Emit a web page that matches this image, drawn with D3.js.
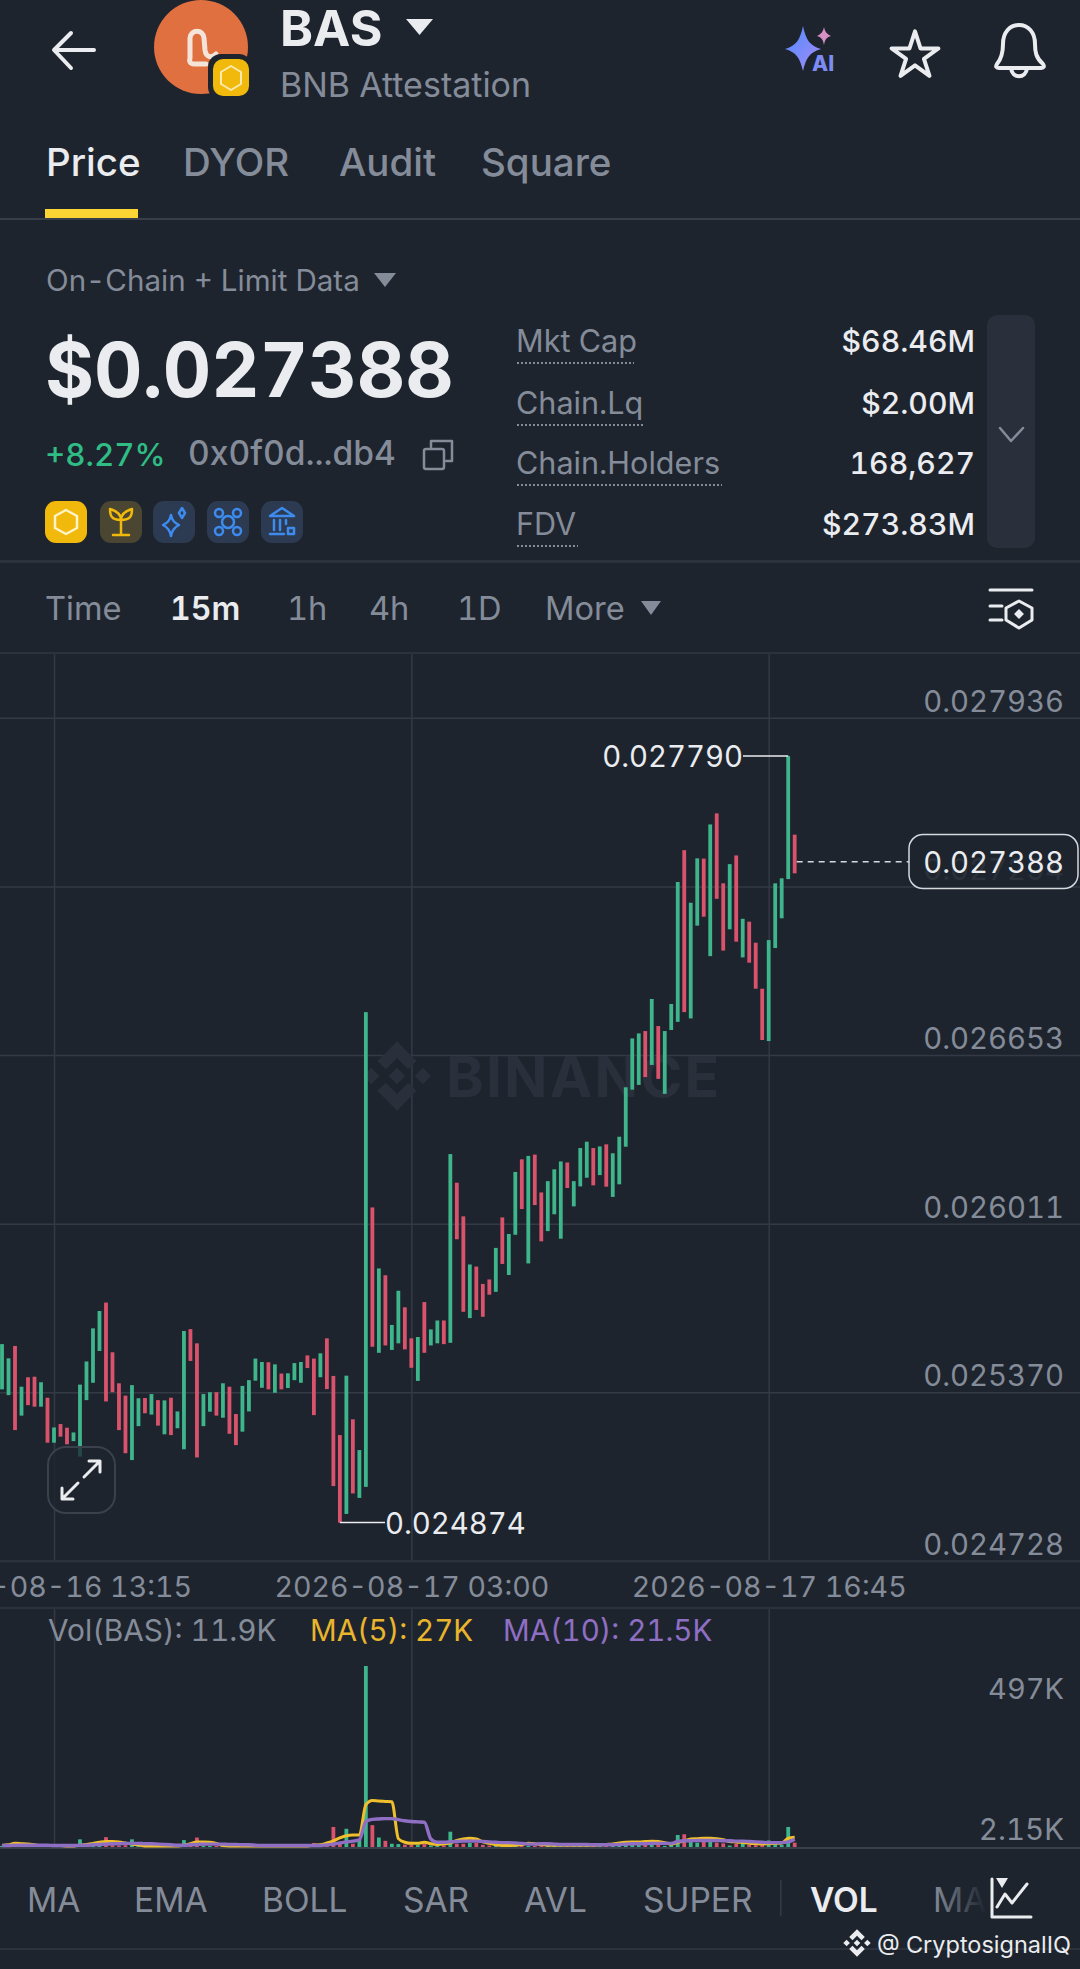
<!DOCTYPE html>
<html>
<head>
<meta charset="utf-8">
<script src="https://cdn.jsdelivr.net/npm/d3@7"></script>
<style>
  html, body { margin: 0; padding: 0; background: #1e242e; }
  svg { display: block; }
  text { font-family: Inter, "Noto Sans", sans-serif; font-variant-numeric: tabular-nums; }
  .domain { display: none; }
</style>
</head>
<body>
<div id="chart"></div>
<script>
// Candles, left to right, 15 minutes apart.
var candleHigh = [0.025553,0.025499,0.025546,0.025391,0.025427,0.025429,0.025408,0.025349,0.025236,0.025249,
  0.025235,0.025217,0.025399,0.025487,0.025613,0.025679,0.025711,0.025522,0.025404,0.025357,
  0.025397,0.025347,0.025348,0.025363,0.025340,0.025339,0.025349,0.025297,0.025603,0.025610,
  0.025556,0.025363,0.025370,0.025370,0.025404,0.025391,0.025287,0.025394,0.025416,0.025498,
  0.025485,0.025484,0.025476,0.025441,0.025442,0.025481,0.025485,0.025510,0.025498,0.025518,
  0.025575,0.025432,0.025207,0.025433,0.025267,0.025150,0.026816,0.026073,0.025841,0.025815,
  0.025626,0.025756,0.025693,0.025575,0.025580,0.025713,0.025609,0.025643,0.025643,0.026276,
  0.026167,0.026039,0.025856,0.025848,0.025782,0.025799,0.025919,0.026035,0.025972,0.026208,
  0.026256,0.026269,0.026274,0.026130,0.026173,0.026218,0.026248,0.026244,0.026173,0.026299,
  0.026323,0.026299,0.026305,0.026313,0.026279,0.026342,0.026530,0.026716,0.026735,0.026744,
  0.026866,0.026763,0.026744,0.026847,0.027311,0.027432,0.027232,0.027401,0.027400,0.027530,
  0.027572,0.027306,0.027379,0.027412,0.027171,0.027160,0.027080,0.026905,0.027090,0.027306,
  0.027325,0.027790,0.027491];
var candleLow = [0.025381,0.025359,0.025226,0.025281,0.025321,0.025315,0.025315,0.025178,0.025178,0.025201,
  0.025172,0.025184,0.025125,0.025340,0.025406,0.025527,0.025335,0.025370,0.025226,0.025138,
  0.025112,0.025241,0.025290,0.025285,0.025243,0.025210,0.025207,0.025233,0.025153,0.025489,
  0.025122,0.025241,0.025296,0.025281,0.025273,0.025212,0.025169,0.025220,0.025297,0.025414,
  0.025387,0.025381,0.025368,0.025381,0.025386,0.025416,0.025406,0.025462,0.025283,0.025427,
  0.025382,0.025013,0.024874,0.024907,0.024985,0.024968,0.025010,0.025543,0.025520,0.025548,
  0.025531,0.025556,0.025533,0.025463,0.025413,0.025520,0.025548,0.025556,0.025553,0.025558,
  0.025952,0.025676,0.025652,0.025683,0.025657,0.025741,0.025752,0.025858,0.025816,0.025969,
  0.026067,0.025860,0.026082,0.025944,0.025983,0.026047,0.025954,0.026147,0.026077,0.026153,
  0.026186,0.026157,0.026196,0.026152,0.026113,0.026161,0.026304,0.026521,0.026539,0.026569,
  0.026615,0.026562,0.026505,0.026748,0.026779,0.026816,0.026792,0.027145,0.027179,0.027029,
  0.027247,0.027050,0.027131,0.027084,0.027024,0.027004,0.026905,0.026710,0.026706,0.027060,
  0.027173,0.027322,0.027344];
var candleUp = [1,1,0,1,0,0,1,0,1,0, 0,1,1,1,1,1,0,0,0,0, 1,1,0,1,0,1,0,1,1,0,
  0,1,1,0,1,0,0,1,1,1, 1,0,1,0,1,1,1,0,0,1, 0,0,0,1,0,1,1,0,1,0,
  1,1,0,0,1,0,1,1,0,1, 0,0,1,0,0,0,1,0,1,1, 0,1,0,0,1,1,1,0,1,1,
  1,0,1,0,1,1,1,1,1,0, 1,0,1,1,1,0,1,1,0,1, 0,0,1,0,1,0,0,0,1,1,
  1,1,0];

// Volume panel, in thousands.
var volume = [3,3,5,3,3,2.5,2.5,3,2.5,2.5, 2.5,3,21,4,3,4,27,5,4,5,
  21,3,3,2.5,2.5,2.5,2.5,2.5,19,4, 26,4,3,3,2.5,2.5,2.5,2.5,2.5,2.5,
  2.5,2.5,2.5,2.5,2.5,2.5,2.5,3,11,3, 5,55,13,50,9,20,497,60,26,17,
  9,8,6.5,6,6,8,4,4,4,42, 9,9,11,11,6,4,4,3,3,3,
  4,3,3,3,3,3,3,3,3,4, 3,3,3,3,3,4,15,16,9,7,
  7,7,3,7,33,35,15,12,15,15, 12,10,4,9,9,6,5,5,18,9,
  6,55,11.9];
var ma5 = [4,6,10,9,8,6,4,4,4,4, 3,3,5,7,10,13,15,15,14,11,
  8,6,3,3,3,3,3,3,5,9, 14,14,13,10,4,3,3,3,3,3,
  3,3,3,3,3,3,3,3,5,6, 11,17,25,31,33,33,116,128,126,125,
  124,23,13,10,10,13,9,7,8,11, 18,22,24,22,14,10,6,4,4,5,
  7,10,9,7,5,5,5,5,5,5, 5,5,6,7,8,11,13,14,14,15,
  16,15,12,8,12,17,22,23,24,24, 23,20,15,14,12,10,9,8,9,10,
  11,24,27];
var ma10 = [4,4,5,5,5,5,5,5,4,4, 4,4,5,5,6,7,8,9,9,10,
  10,10,9,9,8,7,6,5,5,6, 7,8,8,8,8,7,7,6,6,5,
  4,4,4,4,4,4,4,4,4,4, 6,8,11,14,16,20,70,76,77,78,
  78,75,72,70,69,68,22,13,13,14, 15,16,16,16,15,14,13,12,12,11,
  10,8,8,9,9,8,7,7,7,7, 7,6,6,6,6,7,8,9,9,9,
  10,10,10,10,15,17,17,18,18,18, 18,17,17,16,16,15,14,13,12,12,
  12,14,21.5];

var priceTicks = [0.027936, 0.027294, 0.026653, 0.026011, 0.025370, 0.024728];
var timeTickIndex = [8, 63, 118];
var timeTickLabels = ["2026-08-16 13:15", "2026-08-17 03:00", "2026-08-17 16:45"];
var lastPrice = 0.027388, highPrice = 0.027790, lowPrice = 0.024874;

var topTabs = ["Price", "DYOR", "Audit", "Square"];
var statLabels = ["Mkt Cap", "Chain.Lq", "Chain.Holders", "FDV"];
var statValues = ["$68.46M", "$2.00M", "168,627", "$273.83M"];
var intervals = ["Time", "15m", "1h", "4h", "1D", "More"];
var indicators = ["MA", "EMA", "BOLL", "SAR", "AVL", "SUPER"];

var width = 1080, height = 1969;
var bg = "#1e242e", grey = "#858c99", lineCol = "#343a45", green = "#3fb58b", red = "#d9536c",
    white = "#eaecef", yellow = "#fcd535", purple = "#8f6fc4", gold = "#f0b90b";

var svg = d3.select("#chart").append("svg").attr("width", width).attr("height", height);
svg.append("rect").attr("width", width).attr("height", height).attr("fill", bg);

function label(x, y, str, size, col, weight, anchor) {
  return svg.append("text").attr("x", x).attr("y", y).text(str)
    .attr("font-size", size).attr("fill", col)
    .attr("font-weight", weight || 400).attr("text-anchor", anchor || "start");
}
function hline(y, col, h) {
  svg.append("rect").attr("x", 0).attr("y", y).attr("width", width).attr("height", h || 2).attr("fill", col || lineCol);
}
function tri(x0, x1, y0, y1, col) {
  svg.append("path").attr("d", "M" + x0 + " " + y0 + "L" + x1 + " " + y0 + "L" + ((x0 + x1) / 2) + " " + y1 + "Z").attr("fill", col);
}
function outline(d, col, w) {
  return svg.append("path").attr("d", d).attr("fill", "none").attr("stroke", col)
    .attr("stroke-width", w).attr("stroke-linecap", "round").attr("stroke-linejoin", "round");
}
// Two chevrons and three small diamonds.
function binanceMark(cx, cy, s, col) {
  var g = svg.append("g").attr("transform", "translate(" + cx + "," + cy + ") scale(" + s + ")").attr("fill", col);
  g.append("path").attr("d", "M0 -2.3L1.3 -1L.75 -.45L0 -1.2L-.75 -.45L-1.3 -1Z");
  g.append("path").attr("d", "M0 2.3L1.3 1L.75 .45L0 1.2L-.75 .45L-1.3 1Z");
  [-1.73, 0, 1.73].forEach(function(d) {
    g.append("path").attr("d", "M" + (d - .55) + " 0L" + d + " -.55L" + (d + .55) + " 0L" + d + " .55Z");
  });
}

// Header.
outline("M94 50L56 50M71 33L54 50L71 68", white, 4);
svg.append("circle").attr("cx", 201).attr("cy", 47).attr("r", 47).attr("fill", "#e0703f");
outline("M206 64L194 64C190 64 189 61 190 58L190 38C191 29 203 29 204 38L205 50C206 58 212 58 216 54", "#f5e4da", 5);
svg.append("rect").attr("x", 208).attr("y", 54).attr("width", 44).attr("height", 46).attr("rx", 13).attr("fill", bg);
svg.append("rect").attr("x", 213).attr("y", 59).attr("width", 36).attr("height", 37).attr("rx", 10).attr("fill", gold);
outline("M231 66L241 72L241 84L231 90L221 84L221 72Z", "#fbe9b0", 2);
label(280, 46, "BAS", 50, white, 700);
tri(406, 433, 19, 35, white);
label(280, 97, "BNB Attestation", 34, grey);

var starGrad = svg.append("defs").append("linearGradient").attr("id", "aiGrad").attr("x1", 0).attr("y1", 0).attr("x2", 1).attr("y2", 1);
starGrad.append("stop").attr("offset", 0).attr("stop-color", "#4f8bff");
starGrad.append("stop").attr("offset", 1).attr("stop-color", "#a58bf5");
svg.append("path").attr("d", "M803 26C806 40 810 46 821 49C810 52 806 58 803 71C800 58 796 52 785 49C796 46 800 40 803 26Z").attr("fill", "url(#aiGrad)");
svg.append("path").attr("d", "M824 27C825 32 827 34 831 36C827 37 825 39 824 45C823 39 821 37 817 36C821 34 823 32 824 27Z").attr("fill", "#d88fc4");
label(812, 71, "AI", 21, "#7d8cf5", 800);
svg.append("path").attr("d", d3.symbol().type(d3.symbolStar).size(680)()).attr("transform", "translate(915,56)")
  .attr("fill", "none").attr("stroke", white).attr("stroke-width", 4).attr("stroke-linejoin", "round");
outline("M997 64C1002 58 1003 52 1003 44C1003 32 1010 25 1019 25C1028 25 1035 32 1035 44C1035 52 1036 58 1043 64C1045 67 1043 68 1041 68L999 68C997 68 995 67 997 64ZM1011 68C1012 79 1026 79 1027 68", white, 4);

// Tabs.
var tabX = [46, 183, 339, 481];
topTabs.forEach(function(t, i) { label(tabX[i], 176, t, 38.5, i === 0 ? white : grey, 500); });
svg.append("rect").attr("x", 45).attr("y", 209).attr("width", 93).attr("height", 9).attr("fill", yellow);
hline(218, "#383e49");

// Price block.
label(46, 291, "On-Chain + Limit Data", 29.6, grey);
tri(374, 396, 273, 287, grey);
label(45, 397, "$0.027388", 75, white, 700);
label(45, 466, "+8.27%", 31.3, "#2fbd85", 500);
label(188, 465, "0x0f0d...db4", 33.6, grey, 500);
svg.append("rect").attr("x", 424).attr("y", 449).attr("width", 20).attr("height", 20).attr("rx", 2).attr("fill", bg).attr("stroke", grey).attr("stroke-width", 2.5);
outline("M431 447L431 441L452 441L452 461L446 461", grey, 2.5);

var tagX = [45, 100, 153, 207, 261], tagFill = [gold, "#4b4632", "#2d3b52", "#2d3b52", "#2d3b52"], tagCol = ["#fff3c8", gold, "#3d8bef", "#3d8bef", "#3d8bef"];
tagX.forEach(function(x, i) {
  svg.append("rect").attr("x", x).attr("y", 501).attr("width", 42).attr("height", 42).attr("rx", 11).attr("fill", tagFill[i]);
  var cx = x + 21, cy = 522;
  if (i === 0) outline("M" + cx + " " + (cy - 12) + "l11 6v12l-11 6l-11 -6v-12Z", tagCol[i], 2.5);
  if (i === 1) outline("M" + cx + " " + (cy + 13) + "V" + (cy - 2) + "M" + (cx - 8) + " " + (cy + 13) + "H" + (cx + 8) + "M" + cx + " " + (cy - 2) + "C" + (cx - 10) + " " + (cy - 2) + " " + (cx - 11) + " " + (cy - 7) + " " + (cx - 11) + " " + (cy - 13) + "C" + (cx - 4) + " " + (cy - 11) + " " + cx + " " + (cy - 8) + " " + cx + " " + (cy - 2) + "C" + (cx + 10) + " " + (cy - 2) + " " + (cx + 11) + " " + (cy - 7) + " " + (cx + 11) + " " + (cy - 13) + "C" + (cx + 4) + " " + (cy - 11) + " " + cx + " " + (cy - 8) + " " + cx + " " + (cy - 2), tagCol[i], 2.5);
  if (i === 2) outline("M" + (cx - 3) + " " + (cy - 7) + "C" + (cx - 2) + " " + (cy - 1) + " " + (cx + 1) + " " + (cy + 1) + " " + (cx + 5) + " " + (cy + 3) + "C" + (cx + 1) + " " + (cy + 5) + " " + (cx - 2) + " " + (cy + 8) + " " + (cx - 3) + " " + (cy + 14) + "C" + (cx - 4) + " " + (cy + 8) + " " + (cx - 7) + " " + (cy + 5) + " " + (cx - 11) + " " + (cy + 3) + "C" + (cx - 7) + " " + (cy + 1) + " " + (cx - 4) + " " + (cy - 1) + " " + (cx - 3) + " " + (cy - 7) + "ZM" + (cx + 8) + " " + (cy - 14) + "l3 5l-3 5l-3 -5Z", tagCol[i], 2.5);
  if (i === 3) {
    [[-9, -9], [9, -9], [-9, 9], [9, 9]].forEach(function(o) {
      svg.append("circle").attr("cx", cx + o[0]).attr("cy", cy + o[1]).attr("r", 4).attr("fill", "none").attr("stroke", tagCol[i]).attr("stroke-width", 2.5);
    });
    svg.append("circle").attr("cx", cx).attr("cy", cy).attr("r", 6).attr("fill", "none").attr("stroke", tagCol[i]).attr("stroke-width", 2.5);
  }
  if (i === 4) outline("M" + (cx - 12) + " " + (cy - 6) + "L" + cx + " " + (cy - 14) + "L" + (cx + 12) + " " + (cy - 6) + "ZM" + (cx - 8) + " " + (cy - 2) + "V" + (cy + 8) + "M" + (cx - 2) + " " + (cy - 2) + "V" + (cy + 8) + "M" + (cx + 4) + " " + (cy - 2) + "V" + (cy + 2) + "M" + (cx - 12) + " " + (cy + 12) + "H" + (cx + 2) + "M" + (cx + 6) + " " + (cy + 6) + "h6v6h-6Z", tagCol[i], 2.5);
});

var statY = [352, 414, 474, 535], statW = [117, 127, 205, 61];
statLabels.forEach(function(t, i) {
  label(516, statY[i], t, 30.6, grey);
  svg.append("line").attr("x1", 517).attr("x2", 517 + statW[i]).attr("y1", statY[i] + 11).attr("y2", statY[i] + 11)
    .attr("stroke", grey).attr("stroke-width", 2).attr("stroke-dasharray", "2 2");
  label(975, statY[i], statValues[i], 30.2, white, 500, "end");
});
svg.append("rect").attr("x", 987).attr("y", 315).attr("width", 48).attr("height", 233).attr("rx", 10).attr("fill", "#2a303b");
outline("M1000 428L1011 441L1023 428", grey, 2.5);
hline(560, "#2c323c", 3);

// Interval row.
var intervalX = [45, 170, 287, 369, 457, 545];
intervals.forEach(function(t, i) { label(intervalX[i], 620, t, i === 1 ? 32 : 32.6, i === 1 ? white : grey, i === 1 ? 600 : 400); });
tri(641, 661, 601, 615, grey);
outline("M990 590H1032M990 606H1002M990 620H1002", white, 3);
outline("M1019 601L1032 608V620L1019 628L1006 620V608Z", white, 3);
svg.append("rect").attr("x", 1015.5).attr("y", 610.5).attr("width", 7).attr("height", 7).attr("fill", white).attr("transform", "rotate(45,1019,614)");
hline(652, "#2c323c", 2);

// Scales.
var x = d3.scaleLinear().domain([8, 118]).range([54, 768.7]);
var y = d3.scaleLinear().domain([0.024728, 0.027936]).range([1561, 717.7]);
var v = d3.scaleLinear().domain([0, 497]).range([1847, 1666]);

// Grid lines from the axes.
svg.append("g").attr("transform", "translate(1080,0)")
  .call(d3.axisLeft(y).tickValues(priceTicks).tickSize(1080).tickFormat(""))
  .selectAll("line").attr("stroke", lineCol).attr("stroke-width", 1.5);
svg.append("g").attr("transform", "translate(0,1560)")
  .call(d3.axisTop(x).tickValues(timeTickIndex).tickSize(906).tickFormat(""))
  .selectAll("line").attr("stroke", lineCol).attr("stroke-width", 1.5);
svg.append("g").attr("transform", "translate(0,1848)")
  .call(d3.axisTop(x).tickValues(timeTickIndex).tickSize(240).tickFormat(""))
  .selectAll("line").attr("stroke", lineCol).attr("stroke-width", 1.5);
hline(1560, "#2c323c", 2);
hline(1607, "#2c323c", 2);
hline(1847, "#3a404b", 2);

// Watermark.
binanceMark(397, 1076, 15, "#2a303b");
label(446, 1097, "BINANCE", 57, "#2a303b", 700).attr("letter-spacing", 2.2);

// Candles.
var candleIndex = d3.range(candleHigh.length);
svg.append("g").selectAll("rect").data(candleIndex).enter().append("rect")
  .attr("x", function(d) { return x(d) - 1.9; })
  .attr("y", function(d) { return y(candleHigh[d]); })
  .attr("width", 3.8)
  .attr("height", function(d) { return y(candleLow[d]) - y(candleHigh[d]); })
  .attr("fill", function(d) { return candleUp[d] ? green : red; });

// Price axis labels.
var priceAxis = svg.append("g").attr("transform", "translate(1064,0)")
  .call(d3.axisLeft(y).tickValues(priceTicks).tickSize(0).tickPadding(0).tickFormat(d3.format(".6f")));
priceAxis.selectAll("text").attr("font-size", 29.3).attr("fill", grey).attr("dy", -6.5)
  .attr("font-family", "Inter, sans-serif");

// Time axis labels.
var timeAxis = svg.append("g").attr("transform", "translate(0,1597)")
  .call(d3.axisBottom(x).tickValues(timeTickIndex).tickSize(0).tickPadding(0)
    .tickFormat(function(d, i) { return timeTickLabels[i]; }));
timeAxis.selectAll("text").attr("font-size", 28.6).attr("fill", grey).attr("dy", 0)
  .attr("font-family", "Inter, sans-serif");

// High and low callouts.
svg.append("line").attr("x1", 743).attr("x2", x(121)).attr("y1", y(highPrice)).attr("y2", y(highPrice)).attr("stroke", white).attr("stroke-width", 1.5);
label(743, y(highPrice) + 11, d3.format(".6f")(highPrice), 29.3, white, 400, "end");
svg.append("line").attr("x1", x(52)).attr("x2", 385).attr("y1", y(lowPrice)).attr("y2", y(lowPrice)).attr("stroke", white).attr("stroke-width", 1.5);
label(385, y(lowPrice) + 11, d3.format(".6f")(lowPrice), 29.3, white);

// Last price tag.
svg.append("line").attr("x1", x(122) + 2).attr("x2", 909).attr("y1", y(lastPrice)).attr("y2", y(lastPrice))
  .attr("stroke", "#d5d8dd").attr("stroke-width", 1.5).attr("stroke-dasharray", "6 5");
svg.append("rect").attr("x", 909).attr("y", 834.5).attr("width", 169).attr("height", 54).attr("rx", 14)
  .attr("fill", bg).attr("fill-opacity", .88).attr("stroke", "#d5d8dd").attr("stroke-width", 1.5);
label(1064, 873, d3.format(".6f")(lastPrice), 29.3, white, 400, "end");

// Expand button.
svg.append("rect").attr("x", 48).attr("y", 1447).attr("width", 67).attr("height", 66).attr("rx", 18)
  .attr("fill", bg).attr("fill-opacity", .75).attr("stroke", "#3b414c").attr("stroke-width", 2);
outline("M84 1477L100 1461M89 1461H100V1472M78 1483L62 1499M62 1488V1499H73", white, 3);

// Volume header.
label(48, 1641, "Vol(BAS): 11.9K", 29.8, grey);
label(310, 1641, "MA(5): 27K", 29.5, "#e9b52c");
label(503, 1641, "MA(10): 21.5K", 29.5, purple);
label(1064, 1699, "497K", 29, grey, 400, "end");
label(1064, 1840, "2.15K", 29.5, grey, 400, "end");

// Volume bars and averages.
svg.append("g").selectAll("rect").data(candleIndex).enter().append("rect")
  .attr("x", function(d) { return x(d) - 1.9; })
  .attr("y", function(d) { return v(volume[d]); })
  .attr("width", 3.8)
  .attr("height", function(d) { return v(0) - v(volume[d]); })
  .attr("fill", function(d) { return candleUp[d] ? green : red; });
var maLine = function(series) {
  return d3.line().x(function(d) { return x(d); }).y(function(d) { return v(series[d]); }).curve(d3.curveMonotoneX)(candleIndex);
};
svg.append("path").attr("d", maLine(ma5)).attr("fill", "none").attr("stroke", "#f0c02c").attr("stroke-width", 3);
svg.append("path").attr("d", maLine(ma10)).attr("fill", "none").attr("stroke", purple).attr("stroke-width", 3.4);

// Indicator row.
var indX = [27, 134, 262, 403, 524, 643];
indicators.forEach(function(t, i) { label(indX[i], 1912, t, 33.5, grey); });
svg.append("rect").attr("x", 780).attr("y", 1880).attr("width", 1.5).attr("height", 36).attr("fill", lineCol);
label(810, 1912, "VOL", 33.5, white, 600);
var fade = svg.select("defs").append("linearGradient").attr("id", "maFade");
fade.append("stop").attr("offset", 0).attr("stop-color", grey);
fade.append("stop").attr("offset", 1).attr("stop-color", grey).attr("stop-opacity", 0);
label(933, 1912, "MA", 33.5, "url(#maFade)");
outline("M992 1879V1917H1031", white, 3);
outline("M997 1907L1005 1894L1012 1903L1027 1884", white, 3);
tri(996, 1008, 1878, 1888, white);

hline(1948, "#2c323c", 2);
binanceMark(857, 1943, 6, white);
label(1071, 1953, "@ CryptosignalIQ", 23.5, white, 400, "end");
</script>
</body>
</html>
